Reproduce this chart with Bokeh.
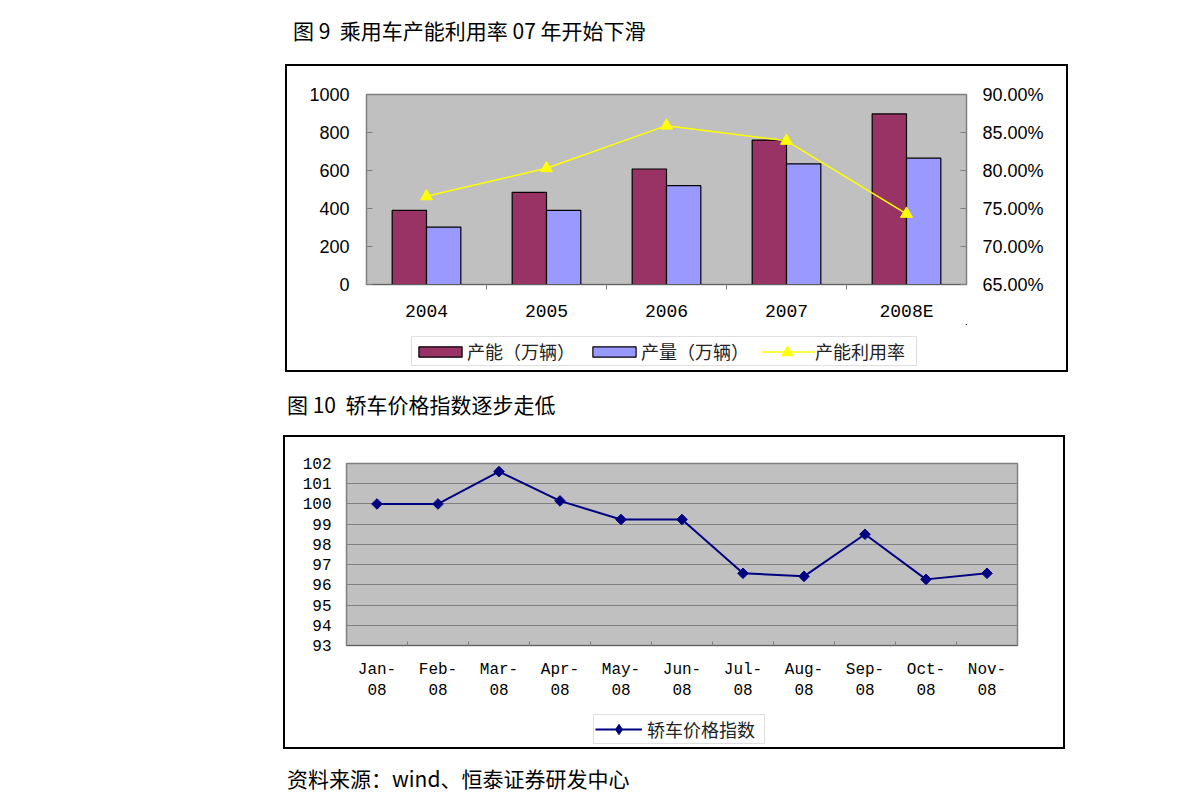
from bokeh.plotting import figure
from bokeh.models import (Range1d, LinearAxis, FixedTicker, NumeralTickFormatter,
                          Legend, LegendItem, Div, Spacer)
from bokeh.layouts import column, row
from bokeh.embed import file_html
from bokeh.resources import INLINE
import math

# ---------------- data ----------------
years = ["2004", "2005", "2006", "2007", "2008E"]
capacity = [390, 485, 608, 760, 898]          # 产能（万辆）
production = [302, 390, 520, 635, 665]        # 产量（万辆）
utilization = [0.766, 0.803, 0.859, 0.839, 0.743]  # 产能利用率

months = ["Jan-08", "Feb-08", "Mar-08", "Apr-08", "May-08", "Jun-08",
          "Jul-08", "Aug-08", "Sep-08", "Oct-08", "Nov-08"]
price_index = [100.0, 100.0, 101.6, 100.15, 99.23, 99.23,
               96.57, 96.42, 98.5, 96.27, 96.57]   # 轿车价格指数

left_ticks1 = [0, 200, 400, 600, 800, 1000]
right_ticks1 = [0.65, 0.70, 0.75, 0.80, 0.85, 0.90]
ticks2 = [93, 94, 95, 96, 97, 98, 99, 100, 101, 102]

title1 = "图 9  乘用车产能利用率 07 年开始下滑"
title2 = "图 10  轿车价格指数逐步走低"
source_text = "资料来源：wind、恒泰证券研发中心"

CJK = "Noto Sans CJK SC"
CAP_COLOR = "#993366"
PROD_COLOR = "#9999FF"
RATE_COLOR = "#FFFF00"
IDX_COLOR = "#000080"


def legend_figure(width, height):
    # a strip that only carries a legend; its ranges lie away from the data,
    # so the key renderers in it are not visible themselves
    f = figure(width=width, height=height, x_range=Range1d(-2, -1), y_range=Range1d(-2, -1),
               output_backend="svg", toolbar_location=None,
               x_axis_location=None, y_axis_location=None,
               min_border=0, min_border_left=0, min_border_right=0,
               min_border_top=0, min_border_bottom=0,
               outline_line_color=None, background_fill_alpha=0, border_fill_alpha=0)
    f.xgrid.visible = False
    f.ygrid.visible = False
    return f


# ---------------- chart 1 ----------------
n1 = len(years)
centers1 = [i + 0.5 for i in range(n1)]
bw = 0.286
cap_x = [c - bw / 2 for c in centers1]
prod_x = [c + bw / 2 for c in centers1]

p1 = figure(width=779, height=258,
            x_range=Range1d(0, n1), y_range=Range1d(0, 1000),
            output_backend="svg", toolbar_location=None,
            min_border_left=79, min_border_right=100,
            min_border_top=28, min_border_bottom=40,
            background_fill_color="#C0C0C0", border_fill_alpha=0,
            outline_line_color="#808080", outline_line_width=1.5)
p1.extra_y_ranges = {"rate": Range1d(0.65, 0.90)}
p1.xgrid.visible = False
p1.ygrid.visible = False

yax = p1.yaxis[0]
yax.ticker = FixedTicker(ticks=left_ticks1, minor_ticks=[])
yax.major_tick_in = 6
yax.major_tick_out = 0
yax.minor_tick_in = 0
yax.minor_tick_out = 0
yax.axis_line_color = "#808080"
yax.major_tick_line_color = "#808080"
yax.major_label_text_font = "Liberation Sans"
yax.major_label_text_font_size = "18px"
yax.major_label_text_color = "black"
yax.major_label_standoff = 17

xax = p1.xaxis[0]
xax.ticker = FixedTicker(ticks=centers1, minor_ticks=[float(i) for i in range(1, n1)])
xax.major_label_overrides = {c: y for c, y in zip(centers1, years)}
xax.major_tick_in = 0
xax.major_tick_out = 0
xax.minor_tick_in = 0
xax.minor_tick_out = 5
xax.axis_line_color = "#606060"
xax.minor_tick_line_color = "#808080"
xax.major_label_text_font = "Liberation Mono"
xax.major_label_text_font_size = "18px"
xax.major_label_text_color = "black"
xax.major_label_standoff = 12

rax = LinearAxis(y_range_name="rate",
                 ticker=FixedTicker(ticks=right_ticks1, minor_ticks=[]),
                 formatter=NumeralTickFormatter(format="0.00%"))
rax.major_tick_in = 6
rax.major_tick_out = 0
rax.minor_tick_in = 0
rax.minor_tick_out = 0
rax.axis_line_color = "#808080"
rax.major_tick_line_color = "#808080"
rax.major_label_text_font = "Liberation Sans"
rax.major_label_text_font_size = "18px"
rax.major_label_text_color = "black"
rax.major_label_standoff = 16
p1.add_layout(rax, "right")

bar_cap = dict(fill_color=CAP_COLOR, line_color="black", line_width=1.2)
bar_prod = dict(fill_color=PROD_COLOR, line_color="black", line_width=1.2)
rate_line = dict(line_color=RATE_COLOR, line_width=1.5)
rate_mark = dict(marker="triangle", size=12, fill_color=RATE_COLOR, line_color=RATE_COLOR)

p1.vbar(x=cap_x, top=capacity, width=bw, bottom=0, **bar_cap)
p1.vbar(x=prod_x, top=production, width=bw, bottom=0, **bar_prod)
p1.line(x=centers1, y=utilization, y_range_name="rate", **rate_line)
p1.scatter(x=centers1, y=utilization, y_range_name="rate", **rate_mark)

# legend strip for chart 1
lf1 = legend_figure(779, 46)
k_cap = lf1.vbar(x=cap_x, top=capacity, width=bw, bottom=0, **bar_cap)
k_prod = lf1.vbar(x=prod_x, top=production, width=bw, bottom=0, **bar_prod)
k_line = lf1.line(x=centers1, y=utilization, **rate_line)
k_tri = lf1.scatter(x=centers1, y=utilization, **rate_mark)
leg1 = Legend(items=[LegendItem(label="产能（万辆）", renderers=[k_cap]),
                     LegendItem(label="产量（万辆）", renderers=[k_prod]),
                     LegendItem(label="产能利用率", renderers=[k_line])],
              orientation="horizontal", location=(45, 4),
              glyph_width=54, glyph_height=13, label_standoff=0,
              label_width=100, spacing=12, padding=1, margin=0,
              border_line_color="#BFBFBF", border_line_width=1,
              background_fill_color="white", background_fill_alpha=1,
              label_text_font=CJK, label_text_font_size="18px",
              label_text_color="#222222")
lf1.add_layout(leg1)
# larger key marker for the rate item, laid over the third key of the legend
leg1m = Legend(items=[LegendItem(label=" ", renderers=[k_tri])],
               location=(394, 4), glyph_width=54, glyph_height=28,
               label_standoff=0, label_width=1, padding=0, margin=0,
               border_line_color=None, background_fill_alpha=0,
               label_text_font=CJK, label_text_font_size="18px")
lf1.add_layout(leg1m)

box1 = column(p1, lf1, margin=0, spacing=0,
              styles={"border": "2px solid black"})

# ---------------- chart 2 ----------------
n2 = len(months)
centers2 = [i + 0.5 for i in range(n2)]

p2 = figure(width=778, height=268,
            x_range=Range1d(0, n2), y_range=Range1d(93, 102),
            output_backend="svg", toolbar_location=None,
            min_border_left=61, min_border_right=46,
            min_border_top=26, min_border_bottom=60,
            background_fill_color="#C0C0C0", border_fill_alpha=0,
            outline_line_color="#808080", outline_line_width=1.5)
p2.xgrid.visible = False

yax2 = p2.yaxis[0]
yax2.ticker = FixedTicker(ticks=ticks2, minor_ticks=[])
yax2.major_tick_in = 0
yax2.major_tick_out = 0
yax2.minor_tick_in = 0
yax2.minor_tick_out = 0
yax2.axis_line_color = "#808080"
yax2.major_label_text_font = "Liberation Mono"
yax2.major_label_text_font_size = "16px"
yax2.major_label_text_color = "black"
yax2.major_label_standoff = 15
p2.ygrid.ticker = FixedTicker(ticks=ticks2)
p2.ygrid.grid_line_color = "#808080"
p2.ygrid.grid_line_width = 1

xax2 = p2.xaxis[0]
xax2.ticker = FixedTicker(ticks=centers2, minor_ticks=[float(i) for i in range(1, n2)])
xax2.major_label_overrides = {c: m.replace("-", "-\n") for c, m in zip(centers2, months)}
xax2.major_tick_in = 0
xax2.major_tick_out = 0
xax2.minor_tick_in = 4
xax2.minor_tick_out = 0
xax2.axis_line_color = "#606060"
xax2.minor_tick_line_color = "#808080"
xax2.major_label_text_font = "Liberation Mono"
xax2.major_label_text_font_size = "16px"
xax2.major_label_text_color = "black"
xax2.major_label_standoff = 15

idx_line = dict(line_color=IDX_COLOR, line_width=2)
idx_mark = dict(marker="square", size=7.5, angle=math.pi / 4,
                fill_color=IDX_COLOR, line_color=IDX_COLOR)
p2.line(x=centers2, y=price_index, **idx_line)
p2.scatter(x=centers2, y=price_index, **idx_mark)

lf2 = legend_figure(778, 42)
k_pl = lf2.line(x=centers2, y=price_index, **idx_line)
k_pd = lf2.scatter(x=centers2, y=price_index, marker="diamond",
                   fill_color=IDX_COLOR, line_color=IDX_COLOR)
leg2 = Legend(items=[LegendItem(label="轿车价格指数", renderers=[k_pl, k_pd])],
              location=(247, 3),
              glyph_width=47, glyph_height=26, label_standoff=5,
              label_width=116, padding=1, margin=0,
              border_line_color="#BFBFBF", border_line_width=1,
              background_fill_color="white", background_fill_alpha=1,
              label_text_font=CJK, label_text_font_size="18px",
              label_text_color="#222222")
lf2.add_layout(leg2)

box2 = column(p2, lf2, margin=0, spacing=0,
              styles={"border": "2px solid black"})


# ---------------- text blocks ----------------
def text_div(txt, pad_left, pad_top, height):
    html = ('<div style="padding-left:%dpx;padding-top:%dpx;font-family:\'%s\';'
            'font-size:21px;line-height:21px;white-space:pre;color:#000;">%s</div>'
            % (pad_left, pad_top, CJK, txt))
    return Div(text=html, width=1180, height=height, margin=0)


d1 = text_div(title1, 293, 20, 64)
d2 = text_div(title2, 287, 22, 63)
d3 = text_div(source_text, 287, 19, 50)

layout = column(
    d1,
    row(Spacer(width=285, height=308, margin=0), box1, margin=0, spacing=0),
    d2,
    row(Spacer(width=283, height=314, margin=0), box2, margin=0, spacing=0),
    d3,
    margin=0, spacing=0,
)

open("out.html", "w").write(file_html(layout, INLINE))
